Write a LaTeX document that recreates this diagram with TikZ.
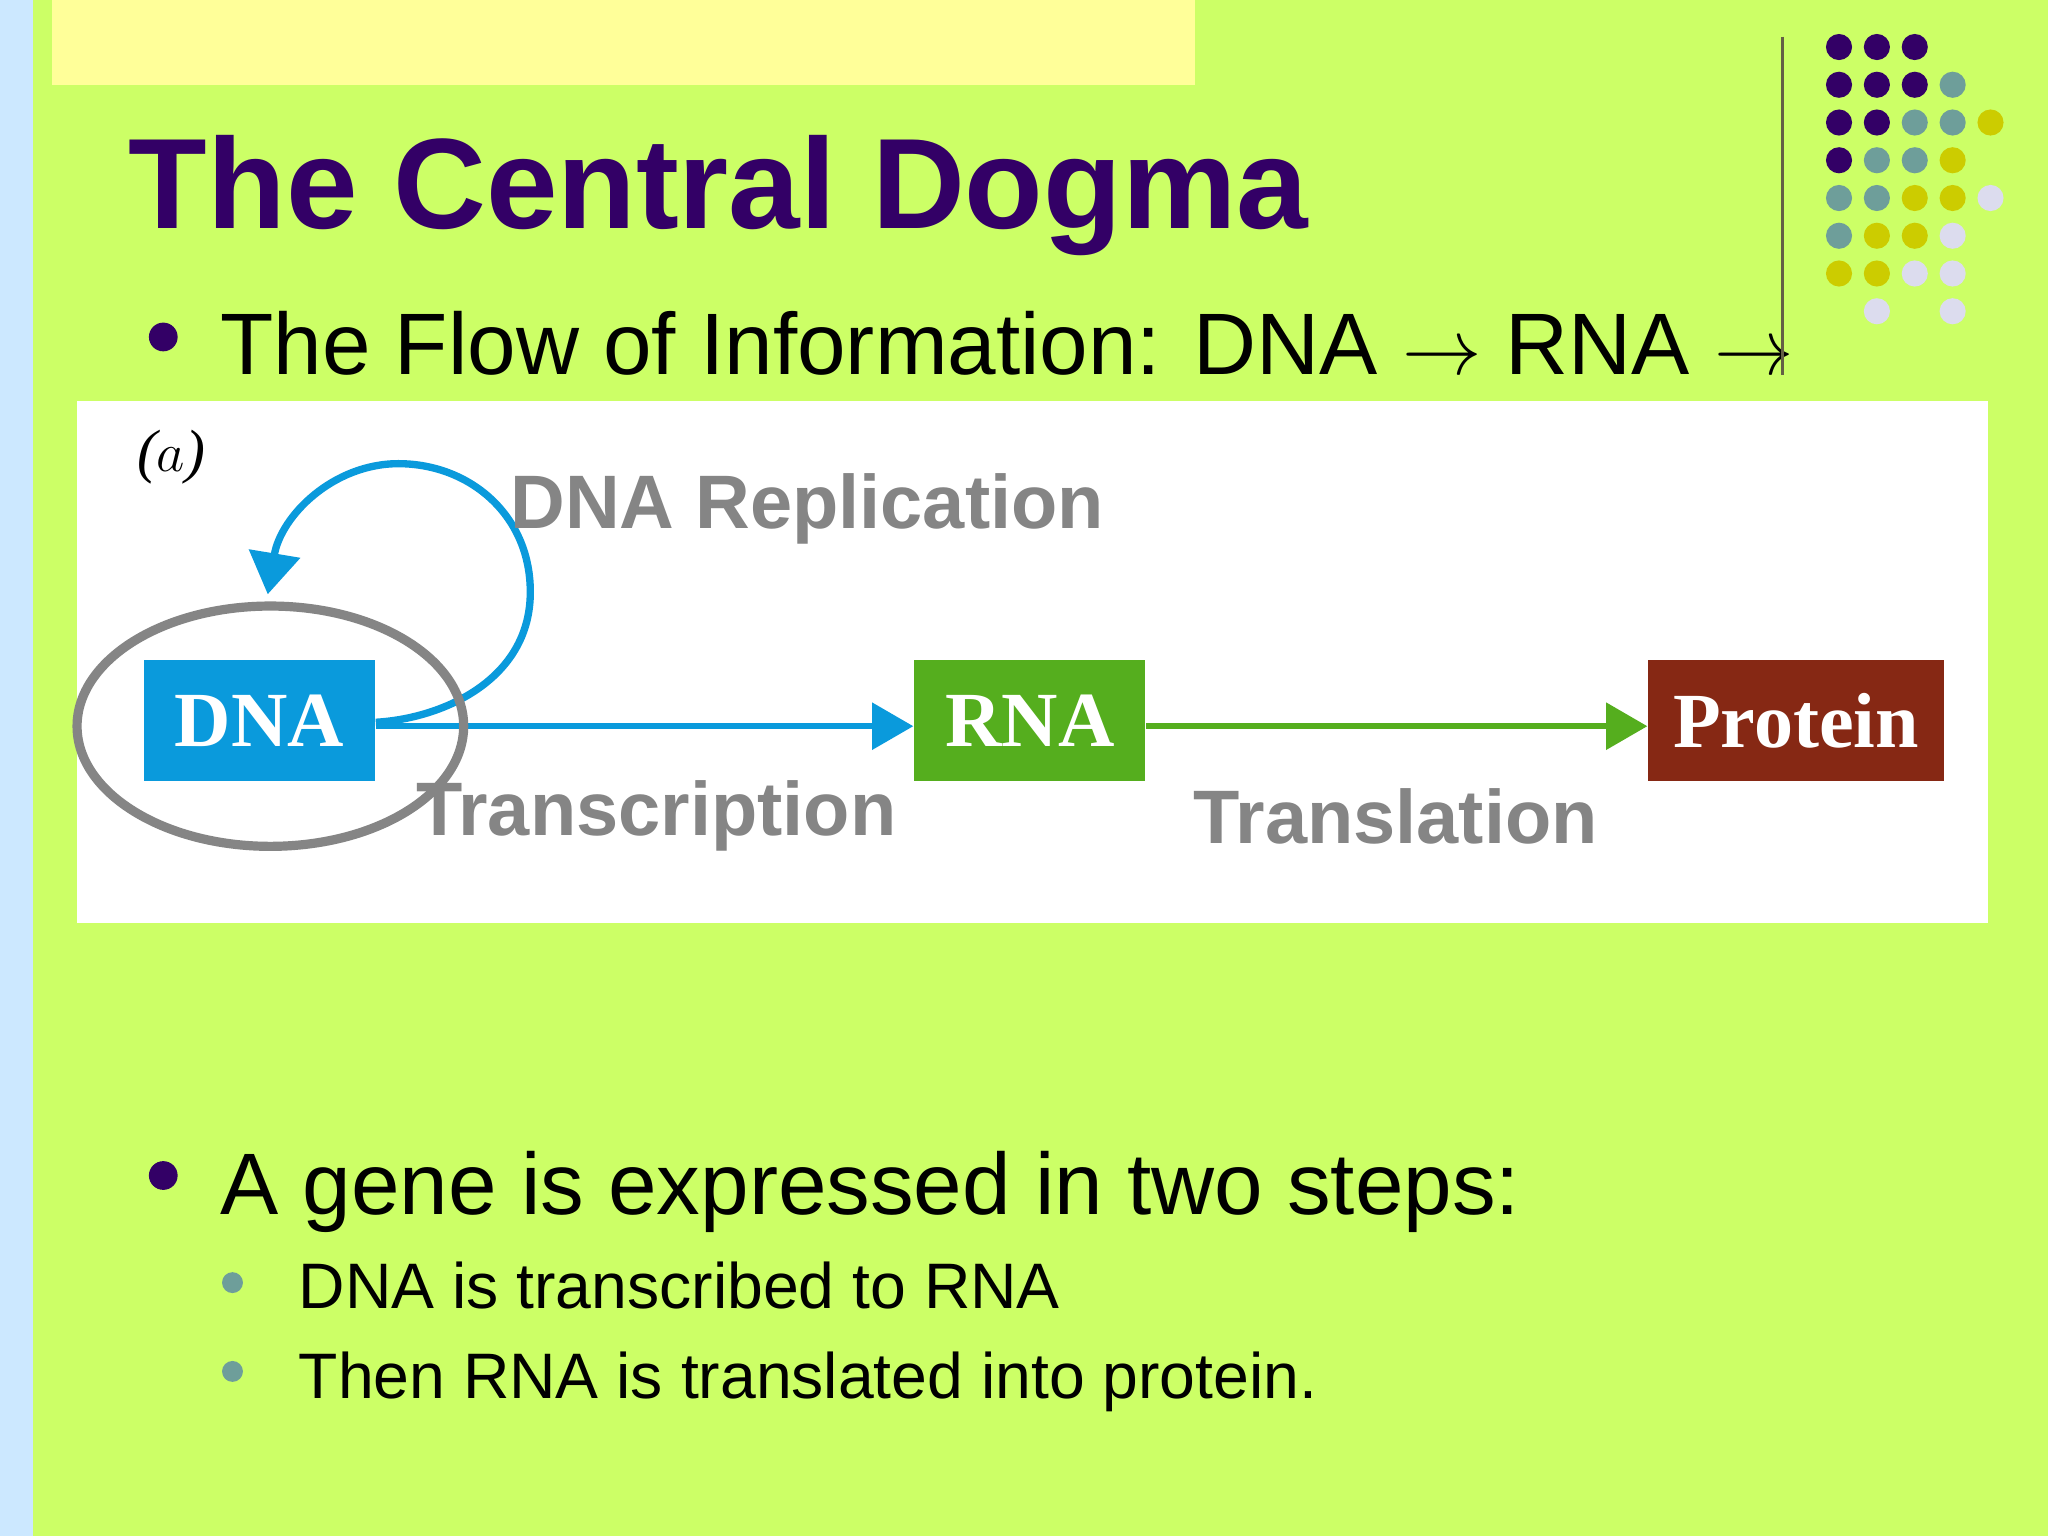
\documentclass[tikz,border=0pt]{standalone}
\usepackage{fontspec}
\setmainfont{Liberation Sans}
\newfontfamily\serifb{Liberation Serif}
\usetikzlibrary{arrows.meta}
\definecolor{lime}{HTML}{CCFF66}
\definecolor{lblue}{HTML}{CCE8FF}
\definecolor{lyel}{HTML}{FFFF99}
\definecolor{purp}{HTML}{330066}
\definecolor{teal2}{HTML}{6E9E9A}
\definecolor{yel2}{HTML}{CCCC00}
\definecolor{lav}{HTML}{DCDCEE}
\definecolor{dnab}{HTML}{0A9ADC}
\definecolor{rnag}{HTML}{55AE1E}
\definecolor{protb}{HTML}{862814}
\definecolor{lblgray}{HTML}{858585}
\tikzset{
 boxs/.style={draw=none,minimum width=177\pgflinewidth,inner sep=0,text=white,font=\serifb\bfseries\fontsize{17}{17}\selectfont},
 lbl/.style={text=lblgray,font=\bfseries\fontsize{16.5}{16.5}\selectfont,inner sep=0},
 dotp/.style={fill=purp},
}
\begin{document}
\begin{tikzpicture}[x=0.01cm,y=-0.01cm]
\fill[lime] (0,0) rectangle (1568,1176);
\useasboundingbox (0,0) rectangle (1568,1176);
\fill[lblue] (0,0) rectangle (25,1176);
\fill[lyel] (40,0) rectangle (915,65);
\node[anchor=base west,inner sep=0,text=purp,font=\bfseries\fontsize{28}{28}\selectfont] (title) at (98,175) {The Central Dogma};
\fill[purp] (125,258) circle (11);
\node[anchor=base west,inner sep=0,font=\fontsize{19}{19}\selectfont] (flow) at (168,287) {The Flow of Information: DNA $\rightarrow$ RNA $\rightarrow$};
\draw[line width=0.6pt,color=black!70!yellow] (1365,28) -- (1365,287);
% dots
\foreach \c/\r/\col in {0/0/purp,1/0/purp,2/0/purp,
 0/1/purp,1/1/purp,2/1/purp,3/1/teal2,
 0/2/purp,1/2/purp,2/2/teal2,3/2/teal2,4/2/yel2,
 0/3/purp,1/3/teal2,2/3/teal2,3/3/yel2,
 0/4/teal2,1/4/teal2,2/4/yel2,3/4/yel2,4/4/lav,
 0/5/teal2,1/5/yel2,2/5/yel2,3/5/lav,
 0/6/yel2,1/6/yel2,2/6/lav,3/6/lav,
 1/7/lav,3/7/lav}
 \fill[\col] (1408+29*\c,36+28.9*\r) circle (10);
% panel
\fill[white] (59,307) rectangle (1522,707);
\node[inner sep=0,font=\serifb\itshape\fontsize{13}{13}\selectfont] (a) at (131,350) {($a$)};
\node[boxs,fill=dnab,minimum width=177*0.01cm,minimum height=93*0.01cm] (dna) at (198.5,551.5) {DNA};
\node[boxs,fill=rnag,minimum width=177*0.01cm,minimum height=93*0.01cm] (rna) at (788.5,551.5) {RNA};
\node[boxs,fill=protb,minimum width=226*0.01cm,minimum height=93*0.01cm] (prot) at (1375,551.5) {Protein};
\draw[dnab,line width=1.4pt,-{Triangle[length=9pt,width=10pt]}] (dna.east|-0,556) -- (rna.west|-0,556);
\draw[rnag,line width=1.4pt,-{Triangle[length=9pt,width=10pt]}] (rna.east|-0,556) -- (prot.west|-0,556);
\coordinate (tip) at (205,455);
\draw[dnab,line width=1.6pt,-{Triangle[length=9pt,width=11pt]}] (dna.east|-0,553) .. controls (340,550) and (405,520) .. (406,455) .. controls (407,395) and (360,355) .. (305,355) .. controls (255,355) and (215,395) .. (tip);
\draw[lblgray,line width=2pt] (207,556) ellipse (148 and 92);
\node[lbl,anchor=west] (rep) at (390,390) {DNA Replication};
\node[lbl,anchor=west] (tsc) at (318,625) {Transcription};
\node[lbl,anchor=west] (tsl) at (913,625) {Translation};
% bottom bullets
\fill[purp] (125,900) circle (11);
\node[anchor=base west,inner sep=0,font=\fontsize{19}{19}\selectfont] (gene) at (168,930) {A gene is expressed in two steps:};
\fill[teal2] (178,982) circle (8);
\fill[teal2] (178,1050) circle (8);
\node[anchor=base west,inner sep=0,font=\fontsize{14}{14}\selectfont] (s1) at (228,1002) {DNA is transcribed to RNA};
\node[anchor=base west,inner sep=0,font=\fontsize{14}{14}\selectfont] (s2) at (228,1071) {Then RNA is translated into protein.};
\end{tikzpicture}
\end{document}
